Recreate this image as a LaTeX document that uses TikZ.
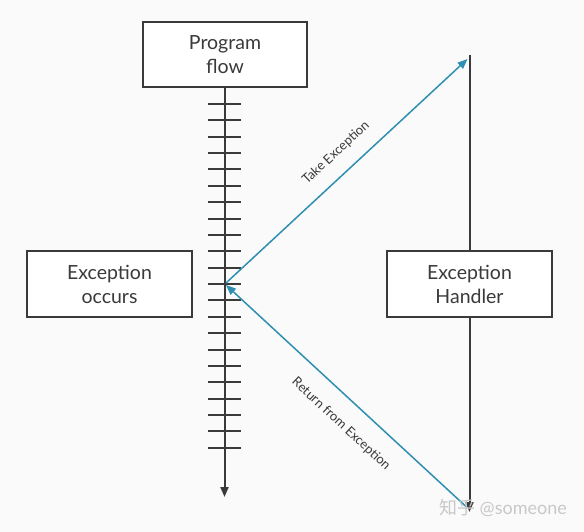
\documentclass[tikz,border=0pt]{standalone}
\usepackage{fontspec}
\setmainfont{Lato}
\newfontfamily\cjk{Noto Sans CJK SC}
\usetikzlibrary{arrows.meta}
\definecolor{ink}{HTML}{3A3A3A}
\definecolor{teal2}{HTML}{2E8FB0}
\definecolor{wm}{HTML}{C8C8C8}
\definecolor{bg}{HTML}{FAFAFA}
\begin{document}
\begin{tikzpicture}[x=1pt,y=-1pt,
  box/.style={draw=ink, line width=1.5pt, fill=white, text=ink,
    font=\fontsize{19.5}{24}\selectfont, align=center, inner sep=0pt},
  flow/.style={draw=ink, line width=2pt},
  flowend/.style={flow, -{Triangle[length=10pt,width=8pt]}},
  tickmark/.style={draw=ink, line width=2pt},
  jump/.style={draw=teal2, line width=1.5pt, -{Triangle[length=10pt,width=8pt]}},
  lbl/.style={text=ink, font=\fontsize{13}{15}\selectfont, inner sep=0pt}]
\useasboundingbox (0,0) rectangle (584,532);
\fill[bg] (0,0) rectangle (584,532);
% program flow
\node[box, minimum width=164pt, minimum height=65pt] (prog) at (225,54.5) {Program\\flow};
\coordinate (pEnd) at (224.5,497);
\draw[flowend] (prog.south -| pEnd) -- (pEnd);
\foreach \i in {0,...,21}
  \draw[tickmark] (208,104+16.37*\i) -- (241,104+16.37*\i);
% exception occurs
\node[box, minimum width=165pt, minimum height=66pt] (occ) at (109.5,284) {Exception\\occurs};
% handler
\node[box, minimum width=165pt, minimum height=66pt] (hand) at (469.5,284) {Exception\\Handler};
\coordinate (hTop) at (469.5,55);
\coordinate (hEnd) at (469.5,512);
\draw[flow] (hTop) -- (hand.north);
\draw[flowend] (hand.south) -- (hEnd);
% jumps
\coordinate (excOut) at (226,283);
\coordinate (excIn) at (226,285);
\coordinate (hIn) at (467.5,59);
\coordinate (hOut) at (466.5,507);
\draw[jump] (excOut) -- (hIn);
\draw[jump] (hOut) -- (excIn);
\node[lbl, rotate=42.8] (take) at (336,153) {Take Exception};
\node[lbl, rotate=-42.8] (ret) at (341,424) {Return from Exception};
% watermark
\node[text=wm, font=\fontsize{18}{18}\selectfont, inner sep=0pt] (mark) at (503,508) {{\cjk 知乎} @someone};
\end{tikzpicture}
\end{document}
